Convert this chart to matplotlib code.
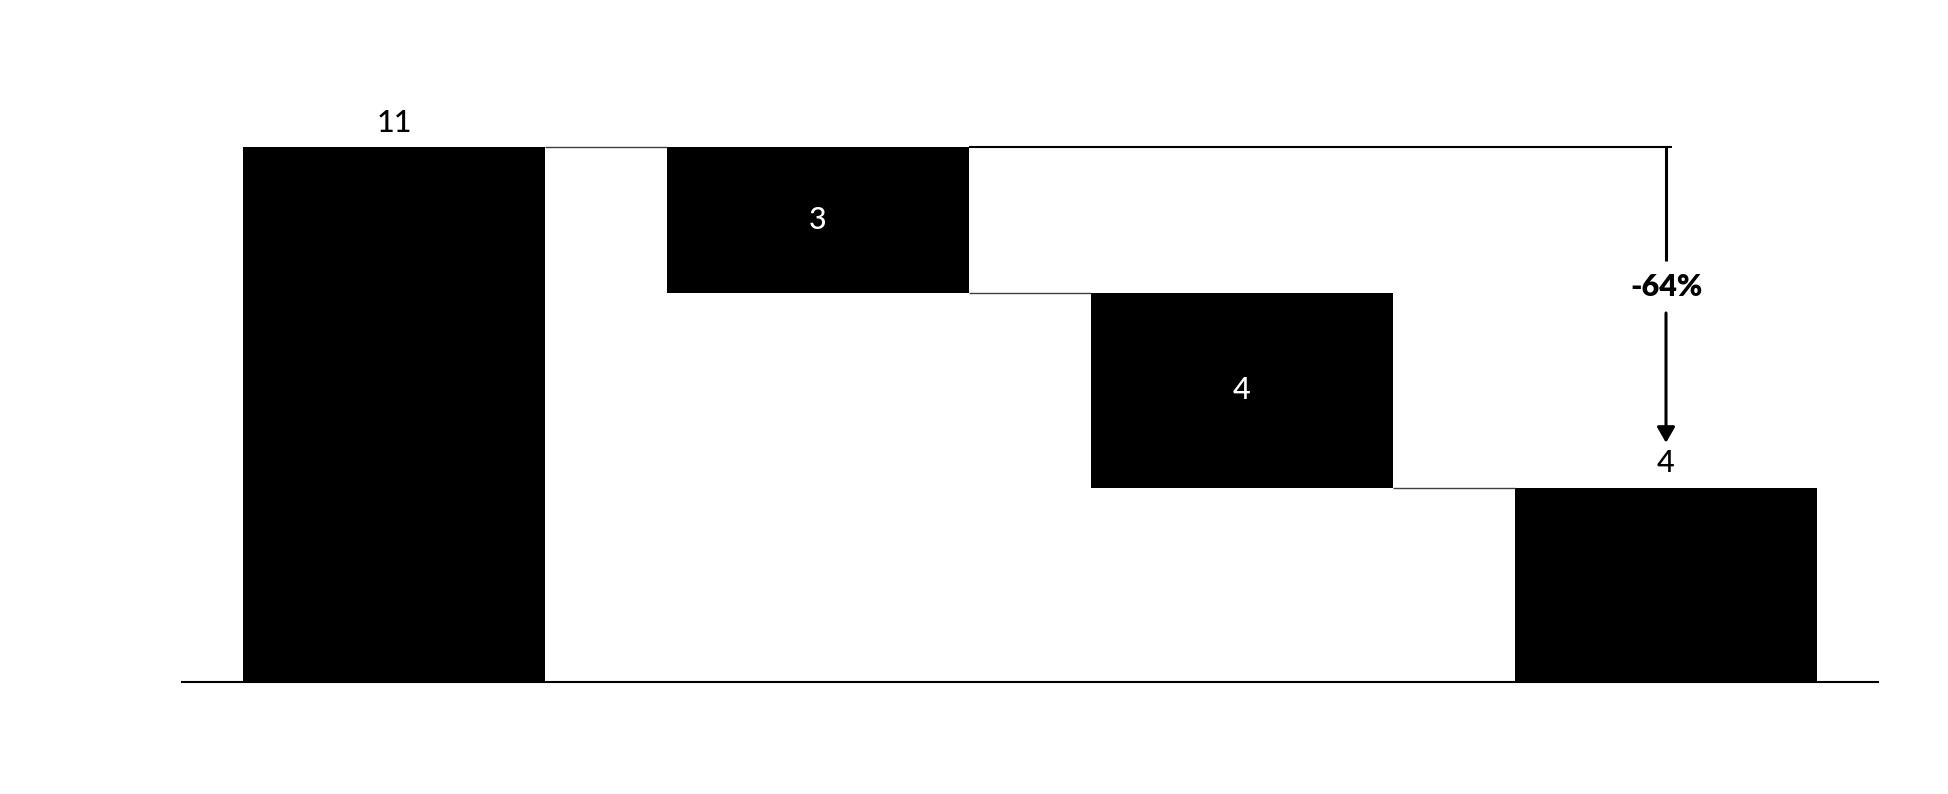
import numpy as np
import matplotlib
matplotlib.use("Agg")
import matplotlib.pyplot as plt

plt.rcParams['font.family'] = ['Lato', 'DejaVu Sans']

# waterfall data
steps = ["Start", "Step 1", "Step 2", "End"]
changes = [11, -3, -4, 4]  # first and last are totals
pct_label = "-64%"

start_val = changes[0]
end_val = start_val + changes[1] + changes[2]

x = np.arange(len(steps))
bottoms = [0, start_val + changes[1], start_val + changes[1] + changes[2], 0]
heights = [start_val, -changes[1], -changes[2], end_val]
tops = [b + h for b, h in zip(bottoms, heights)]
width = 0.71

fig = plt.figure(figsize=(19.48, 7.94), dpi=100)
ax = fig.add_axes([182 / 1948, 1 - 682 / 794, 1696 / 1948, 632 / 794])

ax.bar(x, heights, bottom=bottoms, width=width, color="black", linewidth=0)

# connectors between bars
levels = [start_val, start_val + changes[1], end_val]
for i, lv in enumerate(levels):
    ax.plot([x[i] + width / 2, x[i + 1] - width / 2], [lv, lv], color="#404040", lw=1.0,
            solid_capstyle="butt")

# total labels above, delta labels inside
for i in [0, 3]:
    ax.annotate(str(heights[i]), (x[i], tops[i]), xytext=(0, 11), textcoords="offset points",
                ha="center", va="baseline", fontsize=22, fontweight="medium", color="black")
for i in [1, 2]:
    ax.text(x[i], bottoms[i] + heights[i] / 2, str(heights[i]), ha="center", va="center",
            fontsize=22, fontweight="medium", color="white")

# overall change bracket
xa = x[3]
ax.plot([x[1] + width / 2, xa + 0.014], [start_val, start_val], color="black", lw=1.5,
        solid_capstyle="butt")
span = start_val - end_val
ty = end_val + span * 0.59
ax.plot([xa, xa], [start_val, ty + 0.54], color="black", lw=2.2, solid_capstyle="butt")
ax.annotate("", xy=(xa, end_val + 0.92), xytext=(xa, ty - 0.54),
            arrowprops=dict(arrowstyle="-|>,head_length=0.47,head_width=0.27", mutation_scale=20,
                            lw=2.2, color="black", shrinkA=0, shrinkB=0))
ax.text(xa, ty, pct_label, ha="center", va="center", fontsize=22, fontweight="heavy", color="black")

ax.set_xlim(-0.5, len(steps) - 0.5)
ax.set_ylim(0, 13)
for s in ["top", "right", "left"]:
    ax.spines[s].set_visible(False)
ax.spines["bottom"].set_linewidth(1.5)
ax.spines["bottom"].set_color("black")
ax.set_xticks([])
ax.set_yticks([])

fig.savefig("out.png", dpi=100, facecolor="white")
